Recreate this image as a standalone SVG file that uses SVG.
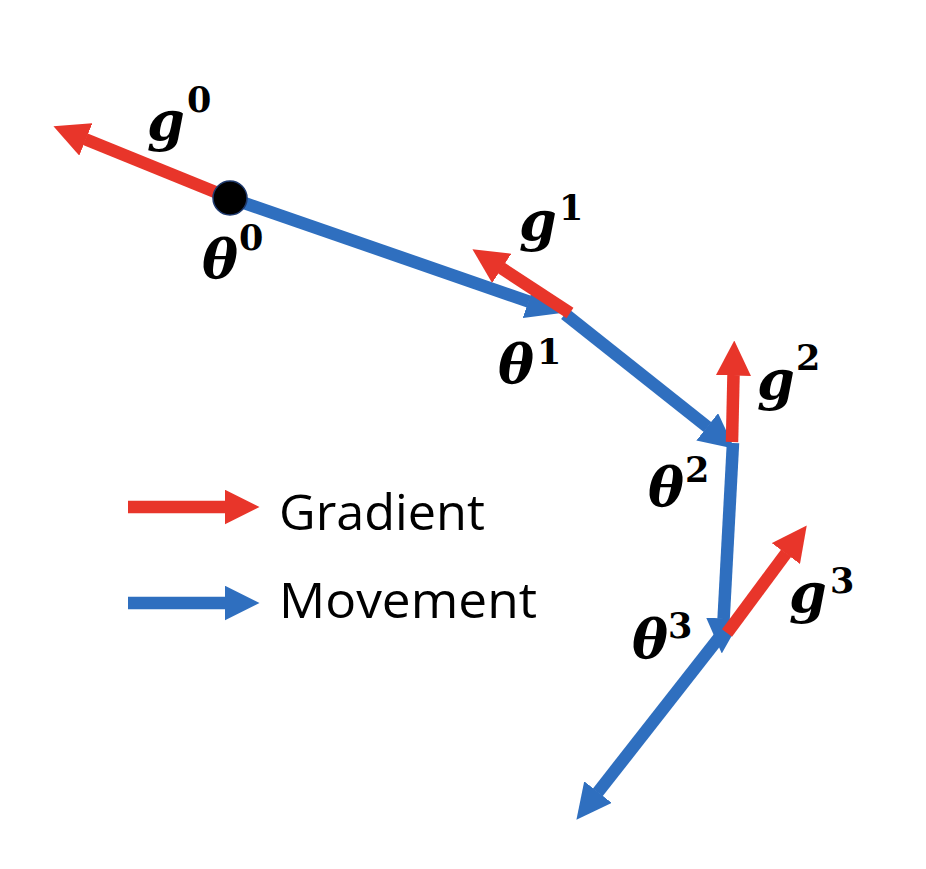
<svg xmlns="http://www.w3.org/2000/svg" width="926" height="869" viewBox="0 0 926 869">
<style>
.red{stroke:#E8352A;stroke-width:12.5;fill:none}
.blue{stroke:#2F6FBF;stroke-width:12.5;fill:none}
.red-r{marker-end:url(#hr)}
.blue-r{marker-end:url(#hb)}
.m{font-family:"DejaVu Serif","Liberation Serif",serif;font-weight:bold;font-style:italic;font-size:54px;fill:#000}
.s{font-family:"DejaVu Serif","Liberation Serif",serif;font-weight:bold;font-size:35px;fill:#000}
.leg{font-family:"Open Sans","Liberation Sans",sans-serif;font-size:49px;fill:#000}
</style>
<defs>
<marker id="hr" viewBox="0 0 35 35" markerWidth="35" markerHeight="35" refX="0.5" refY="17.5" orient="auto" markerUnits="userSpaceOnUse"><path d="M0,0 L35,17.5 L0,35 z" fill="#E8352A"/></marker>
<marker id="hb" viewBox="0 0 35 35" markerWidth="35" markerHeight="35" refX="0.5" refY="17.5" orient="auto" markerUnits="userSpaceOnUse"><path d="M0,0 L35,17.5 L0,35 z" fill="#2F6FBF"/></marker>
</defs>
<rect width="926" height="869" fill="#fff"/>
<g id="connectors">
<line class="red red-r" x1="230" y1="198" x2="85.4" y2="139.2"/>
<line class="blue blue-r" x1="230" y1="198" x2="528.9" y2="301.6"/>
<line class="blue blue-r" x1="565" y1="314" x2="707.6" y2="427.2"/>
<line class="red red-r" x1="570" y1="313" x2="501.3" y2="268.1"/>
<line class="blue blue-r" x1="733" y1="443" x2="723.6" y2="619"/>
<line class="red red-r" x1="732" y1="442" x2="733.5" y2="375"/>
<line class="blue blue-r" x1="725" y1="630" x2="597.7" y2="792.5"/>
<line class="red red-r" x1="727" y1="633" x2="786.2" y2="553.1"/>
</g>
<g id="theta0"><circle cx="230" cy="198" r="17" fill="#000" stroke="#1f3a6e" stroke-width="1.5"/>
<text class="m" x="202" y="278">θ</text><text class="s" x="239" y="250">0</text></g>
<g id="g0"><text class="m" x="147" y="140">g</text><text class="s" x="187" y="112">0</text></g>
<g id="g1"><text class="m" x="519" y="240">g</text><text class="s" x="559" y="220">1</text></g>
<g id="theta1"><text class="m" x="498" y="383">θ</text><text class="s" x="537" y="364">1</text></g>
<g id="g2"><text class="m" x="757" y="399">g</text><text class="s" x="796" y="370">2</text></g>
<g id="theta2"><text class="m" x="648" y="506">θ</text><text class="s" x="685" y="482">2</text></g>
<g id="g3"><text class="m" x="789" y="612">g</text><text class="s" x="830" y="593">3</text></g>
<g id="theta3"><text class="m" x="632" y="658">θ</text><text class="s" x="668" y="638">3</text></g>
<g id="legend">
<line class="red red-r" x1="128" y1="507" x2="225" y2="507"/>
<line class="blue blue-r" x1="128" y1="603" x2="225" y2="603"/>
<text class="leg" x="279" y="530" textLength="206" lengthAdjust="spacingAndGlyphs">Gradient</text>
<text class="leg" x="279" y="618" textLength="258" lengthAdjust="spacingAndGlyphs">Movement</text>
</g>
</svg>
